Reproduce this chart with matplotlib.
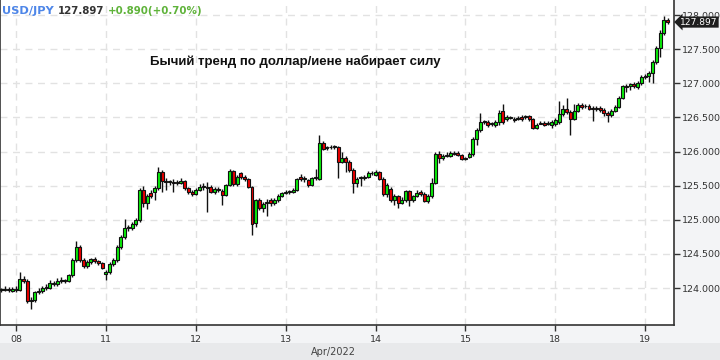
import numpy as np
import matplotlib.pyplot as plt
from matplotlib.patches import Rectangle
from matplotlib.transforms import blended_transform_factory

# USD/JPY hourly candles, 07-19 Apr 2022
opens = [
    123.97, 123.97, 123.99, 123.96, 123.99, 123.97, 124.13, 124.10, 123.81, 123.82,
    123.94, 123.96, 124.00, 124.00, 124.07, 124.06, 124.10, 124.10, 124.10, 124.19,
    124.41, 124.60, 124.41, 124.32, 124.38, 124.43, 124.40, 124.37,
    # 11
    124.21, 124.23, 124.35, 124.41, 124.60, 124.75, 124.88, 124.88, 124.94, 125.00,
    125.44, 125.25, 125.39, 125.41, 125.47, 125.70, 125.57, 125.55, 125.55, 125.54,
    125.54, 125.57, 125.47, 125.41,
    # 12
    125.38, 125.44, 125.48, 125.48, 125.48, 125.41, 125.45, 125.42, 125.36, 125.51,
    125.71, 125.52, 125.69, 125.63, 125.60, 125.48, 124.95, 125.29, 125.17, 125.25,
    125.29, 125.25, 125.29, 125.35,
    # 13
    125.39, 125.41, 125.41, 125.44, 125.63, 125.60, 125.58, 125.51, 125.61, 125.60,
    126.13, 126.05, 126.07, 126.07, 126.07, 125.85, 125.90, 125.85, 125.73, 125.54,
    125.61, 125.61, 125.63, 125.69,
    # 14
    125.66, 125.70, 125.60, 125.38, 125.45, 125.29, 125.35, 125.25, 125.29, 125.42,
    125.29, 125.35, 125.41, 125.38, 125.27, 125.35, 125.54, 125.96, 125.90, 125.95,
    125.93, 125.98, 125.98, 125.95,
    # 15
    125.89, 125.92, 125.96, 126.18, 126.32, 126.43, 126.43, 126.40, 126.39, 126.43,
    126.59, 126.48, 126.49, 126.48, 126.48, 126.51, 126.51, 126.52, 126.48, 126.34,
    126.42, 126.42, 126.41, 126.39,
    # 18
    126.40, 126.43, 126.55, 126.62, 126.58, 126.48, 126.59, 126.68, 126.67, 126.67,
    126.64, 126.64, 126.64, 126.61, 126.56, 126.53, 126.59, 126.65, 126.78, 126.96,
    126.96, 126.99, 126.95, 127.00,
    # 19
    127.09, 127.11, 127.15, 127.31, 127.52, 127.74, 127.93,
]
highs = [
    124.00, 124.03, 124.02, 124.02, 124.03, 124.23, 124.18, 124.13, 123.87, 123.96,
    124.00, 124.03, 124.06, 124.12, 124.10, 124.15, 124.16, 124.13, 124.21, 124.44,
    124.69, 124.63, 124.44, 124.41, 124.44, 124.45, 124.41, 124.38,
    124.26, 124.38, 124.44, 124.63, 124.78, 125.01, 124.92, 124.97, 125.03, 125.47,
    125.49, 125.38, 125.44, 125.49, 125.77, 125.73, 125.61, 125.58, 125.60, 125.58,
    125.61, 125.58, 125.48, 125.44,
    125.47, 125.52, 125.54, 125.55, 125.51, 125.48, 125.48, 125.45, 125.52, 125.74,
    125.73, 125.66, 125.70, 125.66, 125.61, 125.49, 125.30, 125.32, 125.26, 125.30,
    125.32, 125.32, 125.38, 125.41,
    125.44, 125.44, 125.47, 125.61, 125.67, 125.64, 125.60, 125.63, 125.74, 126.24,
    126.15, 126.08, 126.10, 126.10, 126.08, 125.99, 125.93, 125.88, 125.76, 125.63,
    125.64, 125.66, 125.71, 125.71,
    125.73, 125.71, 125.63, 125.54, 125.48, 125.38, 125.36, 125.33, 125.44, 125.44,
    125.36, 125.44, 125.44, 125.41, 125.38, 125.61, 125.99, 126.01, 125.96, 125.99,
    126.01, 126.01, 126.01, 125.96,
    125.92, 125.99, 126.21, 126.34, 126.56, 126.46, 126.46, 126.43, 126.46, 126.61,
    126.70, 126.53, 126.52, 126.51, 126.52, 126.53, 126.53, 126.53, 126.49, 126.42,
    126.45, 126.45, 126.45, 126.46,
    126.49, 126.74, 126.68, 126.78, 126.61, 126.70, 126.71, 126.71, 126.70, 126.70,
    126.67, 126.67, 126.67, 126.64, 126.59, 126.62, 126.68, 126.81, 126.97, 126.99,
    127.00, 127.02, 127.03, 127.12,
    127.14, 127.18, 127.34, 127.55, 127.78, 127.99, 127.96,
]
lows = [
    123.94, 123.96, 123.94, 123.94, 123.94, 123.96, 124.07, 123.78, 123.69, 123.80,
    123.91, 123.93, 123.97, 123.99, 124.03, 124.03, 124.07, 124.07, 124.09, 124.16,
    124.38, 124.38, 124.29, 124.29, 124.35, 124.37, 124.34, 124.28,
    124.12, 124.21, 124.32, 124.38, 124.57, 124.72, 124.84, 124.85, 124.91, 124.97,
    125.19, 125.16, 125.32, 125.29, 125.44, 125.41, 125.44, 125.51, 125.41, 125.51,
    125.52, 125.44, 125.38, 125.35,
    125.36, 125.42, 125.44, 125.11, 125.39, 125.38, 125.41, 125.22, 125.35, 125.49,
    125.49, 125.49, 125.60, 125.57, 125.47, 124.78, 124.89, 125.14, 125.11, 125.06,
    125.20, 125.22, 125.26, 125.33,
    125.38, 125.38, 125.39, 125.42, 125.57, 125.55, 125.48, 125.49, 125.58, 125.58,
    126.02, 126.02, 126.04, 126.04, 125.61, 125.83, 125.70, 125.70, 125.39, 125.48,
    125.49, 125.58, 125.61, 125.66,
    125.64, 125.58, 125.35, 125.33, 125.26, 125.22, 125.17, 125.23, 125.26, 125.20,
    125.26, 125.33, 125.35, 125.26, 125.25, 125.32, 125.52, 125.83, 125.88, 125.92,
    125.92, 125.95, 125.93, 125.88,
    125.88, 125.90, 125.93, 126.10, 126.29, 126.40, 126.36, 126.37, 126.36, 126.39,
    126.40, 126.45, 126.48, 126.43, 126.46, 126.45, 126.48, 126.45, 126.33, 126.33,
    126.40, 126.37, 126.39, 126.34,
    126.37, 126.40, 126.52, 126.55, 126.24, 126.46, 126.58, 126.62, 126.64, 126.61,
    126.45, 126.59, 126.58, 126.52, 126.43, 126.51, 126.58, 126.64, 126.77, 126.87,
    126.90, 126.93, 126.92, 126.97,
    127.06, 127.02, 127.00, 127.28, 127.38, 127.71, 127.87,
]
closes = [
    123.97, 123.99, 123.97, 123.99, 123.97, 124.13, 124.10, 123.81, 123.82, 123.94,
    123.96, 124.00, 124.01, 124.07, 124.06, 124.10, 124.10, 124.11, 124.19, 124.41,
    124.60, 124.41, 124.32, 124.38, 124.43, 124.40, 124.37, 124.29,
    124.23, 124.35, 124.41, 124.60, 124.75, 124.88, 124.89, 124.94, 125.00, 125.44,
    125.25, 125.35, 125.35, 125.47, 125.70, 125.57, 125.55, 125.56, 125.54, 125.55,
    125.57, 125.47, 125.41, 125.38,
    125.44, 125.48, 125.49, 125.47, 125.41, 125.45, 125.44, 125.36, 125.51, 125.71,
    125.52, 125.63, 125.63, 125.60, 125.48, 124.94, 125.29, 125.17, 125.23, 125.26,
    125.25, 125.29, 125.35, 125.39,
    125.41, 125.42, 125.44, 125.60, 125.60, 125.61, 125.51, 125.61, 125.63, 126.13,
    126.04, 126.06, 126.06, 126.07, 125.85, 125.90, 125.85, 125.73, 125.54, 125.60,
    125.62, 125.63, 125.69, 125.68,
    125.70, 125.60, 125.38, 125.51, 125.29, 125.35, 125.25, 125.29, 125.42, 125.29,
    125.35, 125.39, 125.38, 125.27, 125.35, 125.54, 125.96, 125.90, 125.93, 125.94,
    125.98, 125.97, 125.95, 125.89,
    125.90, 125.96, 126.18, 126.32, 126.43, 126.44, 126.39, 126.41, 126.43, 126.56,
    126.43, 126.51, 126.50, 126.46, 126.49, 126.48, 126.52, 126.48, 126.34, 126.39,
    126.41, 126.39, 126.42, 126.43,
    126.46, 126.55, 126.62, 126.58, 126.48, 126.59, 126.68, 126.65, 126.66, 126.62,
    126.63, 126.63, 126.61, 126.56, 126.53, 126.59, 126.65, 126.78, 126.96, 126.95,
    126.99, 126.96, 127.00, 127.09,
    127.11, 127.15, 127.31, 127.52, 127.74, 127.93, 127.897,
]

day_ticks = [4, 28, 52, 76, 100, 124, 148, 172]
day_labels = ['08', '11', '12', '13', '14', '15', '18', '19']
price_ticks = [124.0, 124.5, 125.0, 125.5, 126.0, 126.5, 127.0, 127.5, 128.0]

last_price = 127.897
change = 0.890
change_pct = 0.70

o = np.array(opens)
h = np.array(highs)
l = np.array(lows)
c = np.array(closes)
x = np.arange(len(c))
up = c >= o

fig = plt.figure(figsize=(7.2, 3.6), dpi=100, facecolor='#f3f4f6')
fig.add_artist(Rectangle((0, 0), 1, 17 / 360, transform=fig.transFigure,
                         facecolor='#e8e9eb', edgecolor='none', zorder=0))
ax = fig.add_axes([0, 35 / 360, 674 / 720, 325 / 360])
ax.set_facecolor('white')

# wicks and bodies
ax.vlines(x, l, h, color='#111111', linewidth=1.0, zorder=3)
bottom = np.minimum(o, c)
height = np.maximum(np.abs(c - o), 0.012)
ax.bar(x, height, bottom=bottom, width=0.8,
       color=np.where(up, '#0aee0a', '#ee0000'),
       edgecolor='#111111', linewidth=0.8, zorder=4)

ax.set_xlim(-0.3, 179.7)
ax.set_ylim(123.458, 128.22)

ax.set_xticks(day_ticks)
ax.set_xticklabels(day_labels)
ax.set_yticks(price_ticks)
ax.set_yticklabels([f'{p:.3f}' for p in price_ticks])
ax.yaxis.tick_right()
ax.tick_params(axis='both', direction='out', length=4, width=1, color='#333333',
               labelsize=6.8, labelcolor='#333333')
ax.tick_params(axis='y', pad=1.5)
ax.tick_params(axis='x', pad=3)

ax.grid(True, color='#e2e2e2', linestyle=(0, (5, 4)), linewidth=1, zorder=0)
for side in ['left', 'bottom', 'right']:
    ax.spines[side].set_color('#333333')
    ax.spines[side].set_linewidth(1.2)
ax.spines['top'].set_visible(False)

# last price tag
tr = blended_transform_factory(ax.transAxes, ax.transData)
ax.text(1.009, last_price, f'{last_price:.3f}', transform=tr, ha='left', va='center',
        fontsize=6.6, color='white', zorder=6, clip_on=False,
        bbox=dict(boxstyle='larrow,pad=0.12', facecolor='#1e1e1e', edgecolor='none'))

# header
fig.canvas.draw()
r = fig.canvas.get_renderer()
xpos = 2 / 720
for txt, col, fs in [('USD/JPY', '#4e86e8', 8.2), (f'{last_price:.3f}', '#333333', 7.4),
                     (f'+{change:.3f}(+{change_pct:.2f}%)', '#5fb33a', 7.4)]:
    t = fig.text(xpos, 1 - 11 / 360, txt, color=col, fontsize=fs, fontweight='bold',
                 va='center', ha='left')
    bb = t.get_window_extent(r)
    xpos = (bb.x1 + 4) / 720

ax.text(0.438, 0.812, 'Бычий тренд по доллар/иене набирает силу', transform=ax.transAxes,
        ha='center', va='center', fontsize=9.5, fontweight='bold',
        family='Liberation Sans', color='#111111', zorder=5)

fig.text(333 / 720, 8 / 360, 'Apr/2022', ha='center', va='center',
         fontsize=7, color='#444444')

fig.savefig('out.png', dpi=100, facecolor=fig.get_facecolor())
